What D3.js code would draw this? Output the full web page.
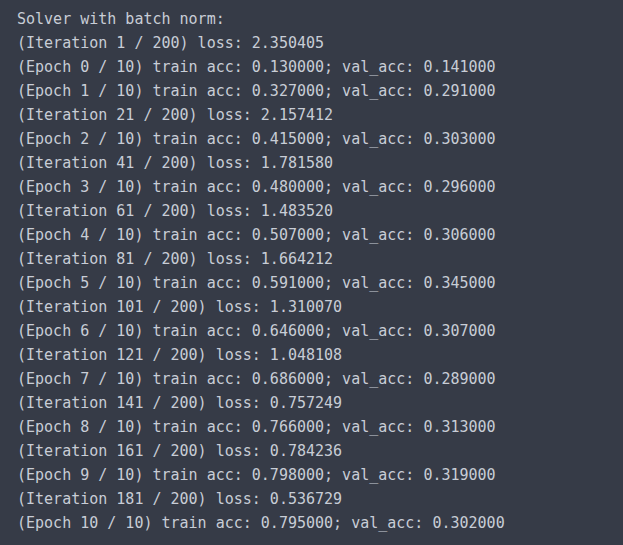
<!DOCTYPE html>
<html>
<head>
<meta charset="utf-8">
<script src="https://cdn.jsdelivr.net/npm/d3@7"></script>
<style>
	html, body { margin: 0; padding: 0; background: #363b47; }
	svg text { font-family: "DejaVu Sans Mono", monospace; font-size: 15px; fill: #c8cdd6; }
</style>
</head>
<body>
<svg id="log" width="623" height="545"></svg>
<script>
// Data
const title = "Solver with batch norm:";
const numIterations = 200;
const numEpochs = 10;
const iterations = [1, 21, 41, 61, 81, 101, 121, 141, 161, 181];
const losses = ["2.350405", "2.157412", "1.781580", "1.483520", "1.664212",
	"1.310070", "1.048108", "0.757249", "0.784236", "0.536729"];
const epochs = [0, 1, 2, 3, 4, 5, 6, 7, 8, 9, 10];
const trainAcc = ["0.130000", "0.327000", "0.415000", "0.480000", "0.507000", "0.591000",
	"0.646000", "0.686000", "0.766000", "0.798000", "0.795000"];
const valAcc = ["0.141000", "0.291000", "0.303000", "0.296000", "0.306000", "0.345000",
	"0.307000", "0.289000", "0.313000", "0.319000", "0.302000"];

function iterLine(i) {
	return "(Iteration " + iterations[i] + " / " + numIterations + ") loss: " + losses[i];
}
function epochLine(e) {
	return "(Epoch " + epochs[e] + " / " + numEpochs + ") train acc: " + trainAcc[e] +
		"; val_acc: " + valAcc[e];
}

// log order: iter 1, epoch 0, then epoch k followed by the next iteration
const lines = [title, iterLine(0), epochLine(0)];
for (let k = 1; k < epochs.length; k++) {
	lines.push(epochLine(k));
	if (k < iterations.length) lines.push(iterLine(k));
}

const y = d3.scaleLinear()
	.domain([0, lines.length - 1])
	.range([23.5, 527.5]);

const svg = d3.select("#log");
svg.selectAll("text")
	.data(lines)
	.enter()
	.append("text")
		.attr("x", 17)
		.attr("y", (d, i) => y(i))
		.attr("xml:space", "preserve")
		.text(d => d);
</script>
</body>
</html>
